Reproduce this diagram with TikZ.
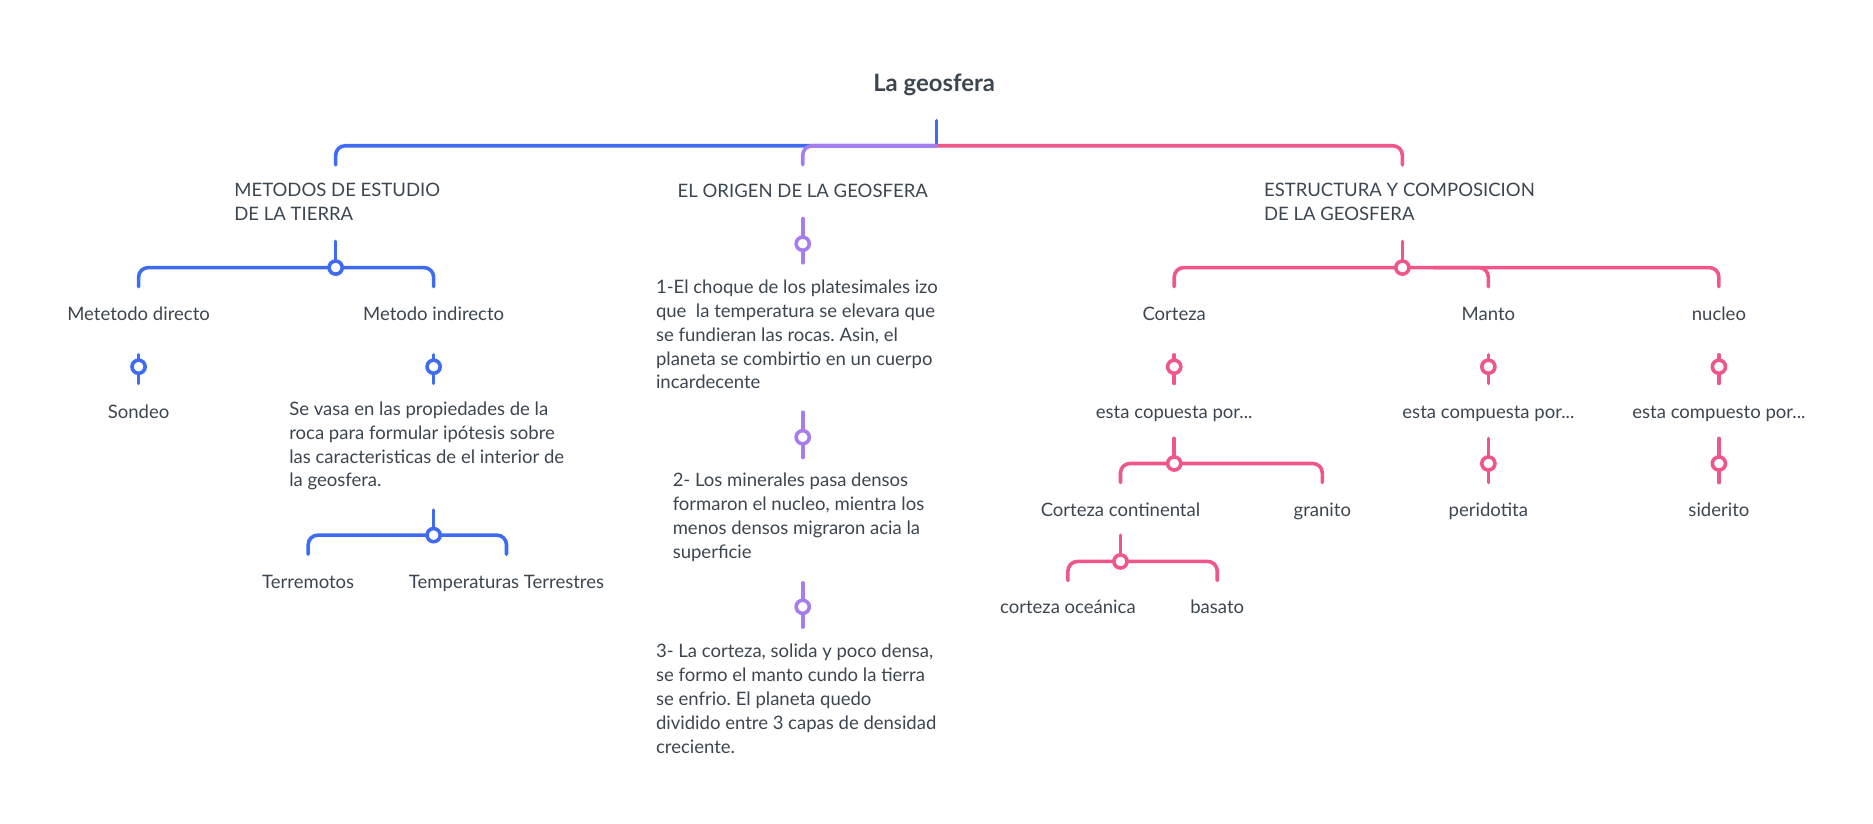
\documentclass[tikz,border=0pt]{standalone}
\usepackage{fontspec}
\setmainfont{Lato}
\definecolor{cb}{HTML}{3F6BF0}
\definecolor{cp}{HTML}{A77DEE}
\definecolor{ck}{HTML}{F0568A}
\definecolor{tx}{HTML}{3C4650}
\frenchspacing
\begin{document}
\begin{tikzpicture}[x=1pt,y=-1pt,
  ln/.style={line width=3pt,rounded corners=8pt,line cap=round},
  dot/.style={circle,draw=#1,line width=3pt,fill=white,minimum size=11pt,inner sep=0pt},
  t/.style={text=tx,font=\fontsize{15.5}{20}\selectfont,inner sep=0pt,anchor=base},
  tl/.style={t,anchor=north west,align=left},
  tc/.style={t,align=center}]
\useasboundingbox (0,0) rectangle (1568,689);
\node[t,font=\fontsize{20}{24}\selectfont\bfseries] (root) at (782,77) {La geosfera};
% top branches
\draw[ln,cb] (784,101) -- (784,122);
\draw[ln,cb] (784,122) -| (281,138);
\draw[ln,ck] (784,122) -| (1174,138);
\draw[ln,cp] (784,122) -| (672,138);
\node[tl] (m) at (196,153) {METODOS DE ESTUDIO\\DE LA TIERRA};
\node[t] (o) at (672,165) {EL ORIGEN DE LA GEOSFERA};
\node[tl] (e) at (1058,153) {ESTRUCTURA Y COMPOSICION\\DE LA GEOSFERA};
% blue
\draw[ln,cb] (281,202) -- (281,224);
\draw[ln,cb] (116,240) |- (281,224) -| (363,240);
\node[dot=cb] (b1) at (281,224) {};
\node[t] (md) at (116,268) {Metetodo directo};
\node[t] (mi) at (363,268) {Metodo indirecto};
\draw[ln,cb] (116,297) -- (116,321); \node[dot=cb] (b2) at (116,307) {};
\draw[ln,cb] (363,297) -- (363,321); \node[dot=cb] (b3) at (363,307) {};
\node[t] (so) at (116,350) {Sondeo};
\node[tl] (sv) at (242,336) {Se vasa en las propiedades de la\\roca para formular ipótesis sobre\\las caracteristicas de el interior de\\la geosfera.};
\draw[ln,cb] (363,427) -- (363,448);
\draw[ln,cb] (258,464) |- (363,448) -| (424,464);
\node[dot=cb] (b4) at (363,448) {};
\node[t] (te) at (258,493) {Terremotos};
\node[t] (tt) at (424,493) {Temperaturas Terrestres};
% purple
\draw[ln,cp] (672,183) -- (672,220); \node[dot=cp] (p1) at (672,204) {};
\node[tl] (p1t) at (549,234) {1-El choque de los platesimales izo\\que\ \ la temperatura se elevara que\\se fundieran las rocas. Asin, el\\planeta se combirtio en un cuerpo\\incardecente};
\draw[ln,cp] (672,345) -- (672,383); \node[dot=cp] (p2) at (672,366) {};
\node[tl] (p2t) at (563,396) {2- Los minerales pasa densos\\formaron el nucleo, mientra los\\menos densos migraron acia la\\superficie};
\draw[ln,cp] (672,488) -- (672,525); \node[dot=cp] (p3) at (672,508) {};
\node[tl] (p3t) at (549,539) {3- La corteza, solida y poco densa,\\se formo el manto cundo la tierra\\se enfrio. El planeta quedo\\dividido entre 3 capas de densidad\\creciente.};
% pink
\draw[ln,ck] (1174,202) -- (1174,224);
\draw[ln,ck] (983,240) |- (1174,224) -| (1439,240);
\draw[ln,ck] (1246,240) |- (1200,224);
\node[dot=ck] (k1) at (1174,224) {};
\node[t] (co) at (983,268) {Corteza};
\node[t] (ma) at (1246,268) {Manto};
\node[t] (nu) at (1439,268) {nucleo};
\foreach \x/\n in {983/k2,1246/k3,1439/k4}{
  \draw[ln,ck] (\x,297) -- (\x,321); \node[dot=ck] (\n) at (\x,307) {};}
\node[t] (c1) at (983,350) {esta copuesta por...};
\node[t] (c2) at (1246,350) {esta compuesta por...};
\node[t] (c3) at (1439,350) {esta compuesto por...};
\draw[ln,ck] (1246,367) -- (1246,404); \node[dot=ck] (k5) at (1246,388) {};
\draw[ln,ck] (1439,367) -- (1439,404); \node[dot=ck] (k6) at (1439,388) {};
\node[t] (pe) at (1246,432) {peridotita};
\node[t] (si) at (1439,432) {siderito};
\draw[ln,ck] (983,367) -- (983,388);
\draw[ln,ck] (938,404) |- (983,388) -| (1107,404);
\node[dot=ck] (k7) at (983,388) {};
\node[t] (cc) at (938,432) {Corteza continental};
\node[t] (gr) at (1107,432) {granito};
\draw[ln,ck] (938,448) -- (938,470);
\draw[ln,ck] (894,486) |- (938,470) -| (1019,486);
\node[dot=ck] (k8) at (938,470) {};
\node[t] (oc) at (894,514) {corteza oceánica};
\node[t] (ba) at (1019,514) {basato};
\end{tikzpicture}
\end{document}
